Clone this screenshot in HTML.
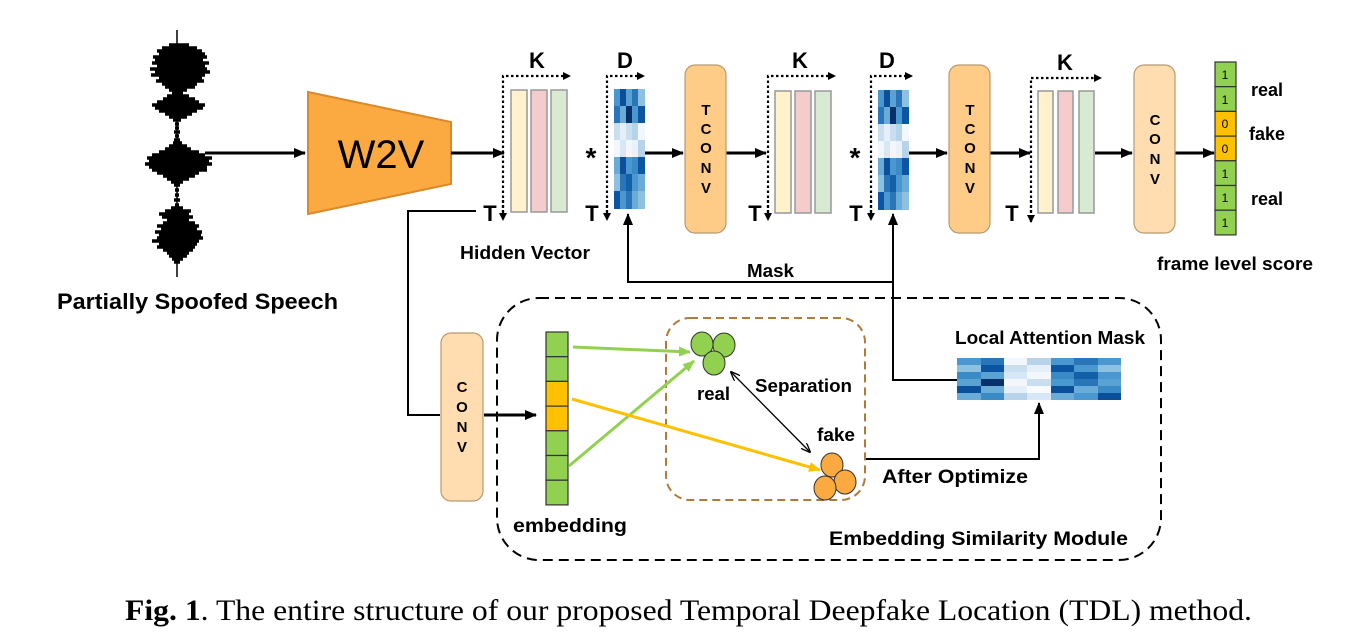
<!DOCTYPE html>
<html><head><meta charset="utf-8"><style>
html,body{margin:0;padding:0;background:#fff;}
svg{display:block;}
text{font-family:"Liberation Sans",Arial,sans-serif;font-weight:bold;fill:#000;}
</style></head><body>
<svg width="1370" height="639" viewBox="0 0 1370 639" xmlns="http://www.w3.org/2000/svg">
<defs>
<marker id="a" markerWidth="8" markerHeight="8" refX="7" refY="4" orient="auto" markerUnits="userSpaceOnUse"><path d="M0,0 L8,4 L0,8 z" fill="#000"/></marker>
<marker id="a2" markerWidth="12" markerHeight="10" refX="11" refY="5" orient="auto" markerUnits="userSpaceOnUse"><path d="M0,0 L12,5 L0,10 z" fill="#000"/></marker>
<marker id="s" markerWidth="10" markerHeight="8" refX="9" refY="4" orient="auto-start-reverse" markerUnits="userSpaceOnUse"><path d="M0,0 L10,4 L0,8" fill="none" stroke="#000" stroke-width="1.3"/></marker>
<marker id="g" markerWidth="12" markerHeight="10" refX="11" refY="5" orient="auto" markerUnits="userSpaceOnUse"><path d="M0,0 L12,5 L0,10 z" fill="#92D050"/></marker>
<marker id="o" markerWidth="12" markerHeight="10" refX="11" refY="5" orient="auto" markerUnits="userSpaceOnUse"><path d="M0,0 L12,5 L0,10 z" fill="#FFC000"/></marker>
</defs>

<line x1="177" y1="30" x2="177" y2="277" stroke="#000" stroke-width="1.5"/>
<path stroke="#000" stroke-width="3.4" fill="none" d="
M169,45H189 M162,48H197 M157,51H202 M159,54H205 M153,57H207 M155,60H203 M152,63H209 M157,66H205 M150,69H207 M155,72H210 M151,75H205 M159,78H202 M156,81H204 M162,84H197 M165,87H195 M169,90H187 M172,93H183
M167,96H189 M163,99H195 M157,102H199 M152,105H205 M155,108H203 M159,111H197 M165,114H192 M169,117H187 M173,120H181
M175,124H179 M175,128H179 M174,132H180 M175,136H179 M174,140H180
M173,143H182 M169,146H187 M165,149H191 M159,152H199 M152,155H205 M147,158H212 M149,161H209 M145,164H212 M149,167H207 M152,170H207 M157,173H199 M163,176H195 M167,179H189 M171,182H183 M174,185H180
M175,190H179 M175,195H179 M174,200H180 M175,205H179
M171,208H183 M165,211H191 M159,214H189 M162,217H193 M167,220H189 M163,223H195 M157,226H199 M161,229H197 M155,232H202 M159,235H201 M157,238H203 M152,241H199 M159,244H197 M157,247H195 M163,250H193 M167,253H189 M169,256H187 M172,259H183 M174,262H180"/>

<polygon points="308,92 451,122 451,184 308,214" fill="#FBA941" stroke="#D9892A" stroke-width="2"/>
<text x="381" y="168" font-size="40" text-anchor="middle" style="font-weight:normal">W2V</text>
<line x1="205" y1="153" x2="305" y2="153" stroke="#000" stroke-width="3" marker-end="url(#a2)"/>
<line x1="451" y1="153" x2="504" y2="153" stroke="#000" stroke-width="3" marker-end="url(#a2)"/>

<g stroke="#000" stroke-width="2.2" stroke-dasharray="2.5,2.5" fill="none">
<path d="M503,218 L503,76 L570,76" marker-end="url(#a)"/><line x1="503" y1="200" x2="503" y2="220" marker-end="url(#a)"/>
<path d="M607,218 L607,76 L644,76" marker-end="url(#a)"/><line x1="607" y1="200" x2="607" y2="220" marker-end="url(#a)"/>
<path d="M768,218 L768,76 L835,76" marker-end="url(#a)"/><line x1="768" y1="200" x2="768" y2="220" marker-end="url(#a)"/>
<path d="M871,218 L871,76 L912,76" marker-end="url(#a)"/><line x1="871" y1="200" x2="871" y2="220" marker-end="url(#a)"/>
<path d="M1031,218 L1031,78 L1101,78" marker-end="url(#a)"/><line x1="1031" y1="200" x2="1031" y2="222" marker-end="url(#a)"/>
</g>
<g stroke="#999" stroke-width="1.5">
<rect x="511" y="90" width="16" height="122" fill="#FFF2CC"/>
<rect x="531" y="90" width="16" height="122" fill="#F4CCCC"/>
<rect x="551" y="90" width="16" height="122" fill="#D9EAD3"/>
<rect x="775" y="91" width="16" height="122" fill="#FFF2CC"/>
<rect x="795" y="91" width="16" height="122" fill="#F4CCCC"/>
<rect x="815" y="91" width="16" height="122" fill="#D9EAD3"/>
<rect x="1038" y="91" width="15" height="122" fill="#FFF2CC"/>
<rect x="1058" y="91" width="15" height="122" fill="#F4CCCC"/>
<rect x="1079" y="91" width="15" height="122" fill="#D9EAD3"/>
</g>
<g font-size="22">
<text x="537" y="68" text-anchor="middle">K</text>
<text x="625" y="68" text-anchor="middle">D</text>
<text x="800" y="68" text-anchor="middle">K</text>
<text x="887" y="68" text-anchor="middle">D</text>
<text x="1065" y="70" text-anchor="middle">K</text>
<text x="490" y="221" text-anchor="middle">T</text>
<text x="592" y="221" text-anchor="middle">T</text>
<text x="755" y="221" text-anchor="middle">T</text>
<text x="856" y="221" text-anchor="middle">T</text>
<text x="1012" y="221" text-anchor="middle">T</text>
<text x="591" y="167" text-anchor="middle" font-size="28">*</text>
<text x="855" y="167" text-anchor="middle" font-size="28">*</text>
</g>
<text x="460" y="259" font-size="18" textLength="130" lengthAdjust="spacingAndGlyphs">Hidden Vector</text>

<g id="hm">
<rect x="614" y="89" width="31" height="120" fill="#3a8ac6"/>
<rect x="614" y="89" width="6" height="17" fill="#4a98cf"/><rect x="620" y="89" width="6" height="17" fill="#0b4f9a"/><rect x="626" y="89" width="6" height="17" fill="#5aa2d4"/><rect x="632" y="89" width="6" height="17" fill="#2a74b8"/><rect x="638" y="89" width="7" height="17" fill="#8ec0e0"/>
<rect x="614" y="106" width="6" height="17" fill="#2a74b8"/><rect x="620" y="106" width="6" height="17" fill="#6aacd8"/><rect x="626" y="106" width="6" height="17" fill="#08306b"/><rect x="632" y="106" width="6" height="17" fill="#4a98cf"/><rect x="638" y="106" width="7" height="17" fill="#0b55a3"/>
<rect x="614" y="123" width="31" height="17" fill="#c9dff0"/><rect x="620" y="123" width="6" height="17" fill="#e4eff9"/><rect x="632" y="123" width="6" height="17" fill="#b6d3ea"/><rect x="638" y="123" width="7" height="17" fill="#f2f7fd"/>
<rect x="614" y="140" width="31" height="17" fill="#f2f7fd"/><rect x="620" y="140" width="6" height="17" fill="#d7e7f5"/><rect x="632" y="140" width="6" height="17" fill="#e9f2fa"/><rect x="638" y="140" width="7" height="17" fill="#b6d3ea"/>
<rect x="614" y="157" width="6" height="17" fill="#6aacd8"/><rect x="620" y="157" width="6" height="17" fill="#0b4f9a"/><rect x="626" y="157" width="6" height="17" fill="#4a98cf"/><rect x="632" y="157" width="6" height="17" fill="#3a8ac6"/><rect x="638" y="157" width="7" height="17" fill="#0b55a3"/>
<rect x="614" y="174" width="6" height="17" fill="#8ec0e0"/><rect x="620" y="174" width="6" height="17" fill="#2a74b8"/><rect x="626" y="174" width="6" height="17" fill="#1360a8"/><rect x="632" y="174" width="6" height="17" fill="#4a98cf"/><rect x="638" y="174" width="7" height="17" fill="#6aacd8"/>
<rect x="614" y="191" width="6" height="18" fill="#0b55a3"/><rect x="620" y="191" width="6" height="18" fill="#4a98cf"/><rect x="626" y="191" width="6" height="18" fill="#2a74b8"/><rect x="632" y="191" width="6" height="18" fill="#6aacd8"/><rect x="638" y="191" width="7" height="18" fill="#8ec0e0"/>
</g>
<use href="#hm" transform="translate(264,1)"/>

<g stroke="#000" stroke-width="3">
<line x1="645" y1="153" x2="683" y2="153" marker-end="url(#a2)"/>
<line x1="726" y1="153" x2="766" y2="153" marker-end="url(#a2)"/>
<line x1="909" y1="153" x2="947" y2="153" marker-end="url(#a2)"/>
<line x1="990" y1="153" x2="1030" y2="153" marker-end="url(#a2)"/>
<line x1="1095" y1="153" x2="1132" y2="153" marker-end="url(#a2)"/>
<line x1="1175" y1="153" x2="1214" y2="153" marker-end="url(#a2)"/>
</g>

<rect x="685" y="65" width="41" height="168" rx="10" fill="#FFCC88" stroke="#b89a70" stroke-width="1.2"/>
<rect x="949" y="65" width="41" height="168" rx="10" fill="#FFCC88" stroke="#b89a70" stroke-width="1.2"/>
<rect x="1134" y="65" width="41" height="168" rx="10" fill="#FFDDB0" stroke="#b89a70" stroke-width="1.2"/>
<rect x="441" y="333" width="42" height="168" rx="10" fill="#FFDDB0" stroke="#b89a70" stroke-width="1.2"/>
<g font-size="15" text-anchor="middle">
<text x="706" y="115">T</text><text x="706" y="134">C</text><text x="706" y="153">O</text><text x="706" y="173">N</text><text x="706" y="193">V</text>
<text x="970" y="115">T</text><text x="970" y="134">C</text><text x="970" y="153">O</text><text x="970" y="173">N</text><text x="970" y="193">V</text>
<text x="1155" y="125">C</text><text x="1155" y="144">O</text><text x="1155" y="164">N</text><text x="1155" y="184">V</text>
<text x="462" y="392">C</text><text x="462" y="412">O</text><text x="462" y="432">N</text><text x="462" y="452">V</text>
</g>

<g stroke="#333" stroke-width="1.2">
<rect x="1215" y="62" width="21" height="24.7" fill="#92D050"/>
<rect x="1215" y="86.7" width="21" height="24.7" fill="#92D050"/>
<rect x="1215" y="111.4" width="21" height="24.7" fill="#FFC000"/>
<rect x="1215" y="136.1" width="21" height="24.7" fill="#FFC000"/>
<rect x="1215" y="160.8" width="21" height="24.7" fill="#92D050"/>
<rect x="1215" y="185.5" width="21" height="24.7" fill="#92D050"/>
<rect x="1215" y="210.2" width="21" height="24.7" fill="#92D050"/>
</g>
<g font-size="12" text-anchor="middle">
<text x="1225" y="79" style="font-weight:normal">1</text><text x="1225" y="104" style="font-weight:normal">1</text><text x="1225" y="128" style="font-weight:normal">0</text><text x="1225" y="153" style="font-weight:normal">0</text><text x="1225" y="178" style="font-weight:normal">1</text><text x="1225" y="202" style="font-weight:normal">1</text><text x="1225" y="227" style="font-weight:normal">1</text>
</g>
<g font-size="18">
<text x="1251" y="96">real</text><text x="1249" y="140">fake</text><text x="1251" y="205">real</text>
<text x="1157" y="270" textLength="156" lengthAdjust="spacingAndGlyphs">frame level score</text>
</g>

<text x="57" y="309" font-size="22" textLength="281" lengthAdjust="spacingAndGlyphs">Partially Spoofed Speech</text>

<g stroke="#000" stroke-width="2" fill="none">
<path d="M893,282 L628,282 L628,214" marker-end="url(#a2)"/>
<path d="M957,380 L893,380 L893,214" marker-end="url(#a2)"/>
<path d="M476,211 L408,211 L408,415 L440,415" />
<path d="M866,459 L1039,459 L1039,403" marker-end="url(#a2)"/>
</g>
<line x1="484" y1="415" x2="536" y2="415" stroke="#000" stroke-width="3" marker-end="url(#a2)"/>
<text x="747" y="277" font-size="18" textLength="47" lengthAdjust="spacingAndGlyphs">Mask</text>

<rect x="497" y="298" width="664" height="262" rx="42" fill="none" stroke="#000" stroke-width="2" stroke-dasharray="10,6"/>
<rect x="666" y="318" width="199" height="182" rx="24" fill="none" stroke="#B07A3A" stroke-width="2" stroke-dasharray="8,5"/>
<text x="829" y="545" font-size="19" textLength="299" lengthAdjust="spacingAndGlyphs">Embedding Similarity Module</text>
<text x="882" y="483" font-size="19" textLength="146" lengthAdjust="spacingAndGlyphs">After Optimize</text>
<text x="955" y="344" font-size="18" textLength="190" lengthAdjust="spacingAndGlyphs">Local Attention Mask</text>

<g>
<rect x="957" y="358" width="24" height="7" fill="#4a98cf"/><rect x="981" y="358" width="23" height="7" fill="#2a74b8"/><rect x="1004" y="358" width="23" height="7" fill="#f2f7fd"/><rect x="1027" y="358" width="24" height="7" fill="#b6d3ea"/><rect x="1051" y="358" width="23" height="7" fill="#4a98cf"/><rect x="1074" y="358" width="24" height="7" fill="#2a74b8"/><rect x="1098" y="358" width="23" height="7" fill="#4a98cf"/>
<rect x="957" y="365" width="24" height="7" fill="#8ec0e0"/><rect x="981" y="365" width="23" height="7" fill="#0b55a3"/><rect x="1004" y="365" width="23" height="7" fill="#c9dff0"/><rect x="1027" y="365" width="24" height="7" fill="#e4eff9"/><rect x="1051" y="365" width="23" height="7" fill="#0b55a3"/><rect x="1074" y="365" width="24" height="7" fill="#4a98cf"/><rect x="1098" y="365" width="23" height="7" fill="#8ec0e0"/>
<rect x="957" y="372" width="24" height="7" fill="#3a8ac6"/><rect x="981" y="372" width="23" height="7" fill="#5aa2d4"/><rect x="1004" y="372" width="23" height="7" fill="#d7e7f5"/><rect x="1027" y="372" width="24" height="7" fill="#f2f7fd"/><rect x="1051" y="372" width="23" height="7" fill="#3a8ac6"/><rect x="1074" y="372" width="24" height="7" fill="#1360a8"/><rect x="1098" y="372" width="23" height="7" fill="#4a98cf"/>
<rect x="957" y="379" width="24" height="7" fill="#5aa2d4"/><rect x="981" y="379" width="23" height="7" fill="#08306b"/><rect x="1004" y="379" width="23" height="7" fill="#f2f7fd"/><rect x="1027" y="379" width="24" height="7" fill="#c9dff0"/><rect x="1051" y="379" width="23" height="7" fill="#4a98cf"/><rect x="1074" y="379" width="24" height="7" fill="#2a74b8"/><rect x="1098" y="379" width="23" height="7" fill="#5aa2d4"/>
<rect x="957" y="386" width="24" height="7" fill="#0b4f9a"/><rect x="981" y="386" width="23" height="7" fill="#6aacd8"/><rect x="1004" y="386" width="23" height="7" fill="#e4eff9"/><rect x="1027" y="386" width="24" height="7" fill="#f7fbff"/><rect x="1051" y="386" width="23" height="7" fill="#0b4f9a"/><rect x="1074" y="386" width="24" height="7" fill="#6aacd8"/><rect x="1098" y="386" width="23" height="7" fill="#3a8ac6"/>
<rect x="957" y="393" width="24" height="7" fill="#6aacd8"/><rect x="981" y="393" width="23" height="7" fill="#3a8ac6"/><rect x="1004" y="393" width="23" height="7" fill="#b6d3ea"/><rect x="1027" y="393" width="24" height="7" fill="#d7e7f5"/><rect x="1051" y="393" width="23" height="7" fill="#6aacd8"/><rect x="1074" y="393" width="24" height="7" fill="#4a98cf"/><rect x="1098" y="393" width="23" height="7" fill="#0b4f9a"/>
</g>

<g stroke="#333" stroke-width="1.2">
<rect x="546" y="332" width="22" height="24.7" fill="#92D050"/>
<rect x="546" y="356.7" width="22" height="24.7" fill="#92D050"/>
<rect x="546" y="381.4" width="22" height="24.7" fill="#FFC000"/>
<rect x="546" y="406.1" width="22" height="24.7" fill="#FFC000"/>
<rect x="546" y="430.8" width="22" height="24.7" fill="#92D050"/>
<rect x="546" y="455.5" width="22" height="24.7" fill="#92D050"/>
<rect x="546" y="480.2" width="22" height="24.7" fill="#92D050"/>
</g>
<text x="513" y="532" font-size="19" textLength="114" lengthAdjust="spacingAndGlyphs">embedding</text>

<line x1="573" y1="347" x2="690" y2="352" stroke="#92D050" stroke-width="3" marker-end="url(#g)"/>
<line x1="569" y1="466" x2="694" y2="361" stroke="#92D050" stroke-width="3" marker-end="url(#g)"/>
<line x1="572" y1="399" x2="820" y2="470" stroke="#FFC000" stroke-width="3" marker-end="url(#o)"/>

<g stroke="#333" stroke-width="1">
<ellipse cx="702" cy="344" rx="11" ry="12" fill="#92D050"/>
<ellipse cx="724" cy="345" rx="11" ry="12" fill="#92D050"/>
<ellipse cx="714" cy="363" rx="11" ry="12" fill="#92D050"/>
<ellipse cx="832" cy="465" rx="11" ry="12" fill="#FBA941"/>
<ellipse cx="845" cy="482" rx="11" ry="12" fill="#FBA941"/>
<ellipse cx="825" cy="488" rx="11" ry="12" fill="#FBA941"/>
</g>
<line x1="731" y1="372" x2="810" y2="452" stroke="#000" stroke-width="1.3" marker-start="url(#s)" marker-end="url(#s)"/>
<text x="697" y="400" font-size="18" textLength="33" lengthAdjust="spacingAndGlyphs">real</text>
<text x="817" y="441" font-size="18" textLength="38" lengthAdjust="spacingAndGlyphs">fake</text>
<text x="755" y="392" font-size="18" textLength="97" lengthAdjust="spacingAndGlyphs">Separation</text>

<text x="125" y="620" font-size="30" textLength="1127" lengthAdjust="spacingAndGlyphs" style="font-family:'Liberation Serif',serif;font-weight:normal"><tspan style="font-weight:bold">Fig. 1</tspan>. The entire structure of our proposed Temporal Deepfake Location (TDL) method.</text>
</svg>
</body></html>
